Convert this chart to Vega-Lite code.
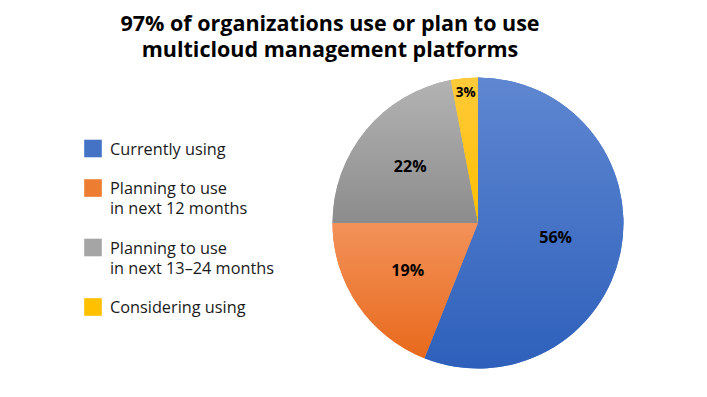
{
  "$schema": "https://vega.github.io/schema/vega-lite/v6.json",
  "autosize": {"type": "none"},
  "width": 291,
  "height": 291,
  "padding": {"left": 332.5, "top": 77.5, "right": 83.5, "bottom": 28.5},
  "background": "white",
  "config": {"view": {"stroke": null}, "font": "Open Sans"},
  "title": {
    "text": ["97% of organizations use or plan to use", "multicloud management platforms"],
    "anchor": "middle",
    "dx": -148,
    "font": "Open Sans",
    "fontSize": 21.5,
    "fontWeight": "bold",
    "color": "#000000",
    "lineHeight": 26.5,
    "offset": 16
  },
  "data": {
    "values": [
      {"cat": "Currently using", "value": 0.56, "ord": 1},
      {"cat": "Planning to use|in next 12 months", "value": 0.19, "ord": 2},
      {"cat": "Planning to use|in next 13–24 months", "value": 0.22, "ord": 3},
      {"cat": "Considering using", "value": 0.03, "ord": 4}
    ]
  },
  "encoding": {
    "theta": {"field": "value", "type": "quantitative", "stack": true, "scale": {"domain": [0, 1]}},
    "order": {"field": "ord", "type": "quantitative"}
  },
  "layer": [
    {
      "mark": {"type": "arc"},
      "encoding": {
        "color": {
          "field": "cat",
          "type": "nominal",
          "scale": {
            "domain": ["Currently using", "Planning to use|in next 12 months", "Planning to use|in next 13–24 months", "Considering using"],
            "range": ["#4472c4", "#ed7d31", "#a5a5a5", "#ffc000"]
          },
          "legend": {
            "title": null,
            "orient": "none",
            "legendX": -248.5,
            "legendY": 62,
            "symbolType": "square",
            "symbolSize": 310,
            "symbolStrokeWidth": 0,
            "symbolOpacity": 1,
            "labelFont": "Open Sans",
            "labelFontSize": 16.3,
            "labelColor": "#1a1a1a",
            "labelOffset": 8,
            "labelLimit": 300,
            "labelBaseline": "alphabetic",
            "rowPadding": 20.5,
            "labelExpr": "split(datum.label, '|')",
            "encode": {"labels": {"update": {"dy": {"value": 6}, "lineHeight": {"value": 20}}}}
          }
        }
      }
    },
    {
      "mark": {"type": "arc", "fill": {"gradient": "linear", "x1": 0, "y1": 0, "x2": 0, "y2": 1, "stops": [{"offset": 0, "color": "#5f87d1"}, {"offset": 1, "color": "#2e60bb"}]}},
      "encoding": {"opacity": {"condition": {"test": "datum.ord == 1", "value": 1}, "value": 0}}
    },
    {
      "mark": {"type": "arc", "fill": {"gradient": "linear", "x1": 0, "y1": 0, "x2": 0, "y2": 1, "stops": [{"offset": 0, "color": "#f3925a"}, {"offset": 1, "color": "#e8691c"}]}},
      "encoding": {"opacity": {"condition": {"test": "datum.ord == 2", "value": 1}, "value": 0}}
    },
    {
      "mark": {"type": "arc", "fill": {"gradient": "linear", "x1": 0, "y1": 0, "x2": 0, "y2": 1, "stops": [{"offset": 0, "color": "#b3b3b3"}, {"offset": 1, "color": "#8c8c8c"}]}},
      "encoding": {"opacity": {"condition": {"test": "datum.ord == 3", "value": 1}, "value": 0}}
    },
    {
      "mark": {"type": "arc", "fill": {"gradient": "linear", "x1": 0, "y1": 0, "x2": 0, "y2": 1, "stops": [{"offset": 0, "color": "#ffca3a"}, {"offset": 1, "color": "#ffbf00"}]}},
      "encoding": {"opacity": {"condition": {"test": "datum.ord == 4", "value": 1}, "value": 0}}
    },
    {
      "mark": {"type": "text", "radius": 79, "font": "Open Sans", "fontSize": 16, "fontWeight": "bold", "color": "#000000"},
      "encoding": {"text": {"field": "value", "format": ".0%"}, "opacity": {"condition": {"test": "datum.ord == 1", "value": 1}, "value": 0}}
    },
    {
      "mark": {"type": "text", "radius": 85, "font": "Open Sans", "fontSize": 16, "fontWeight": "bold", "color": "#000000"},
      "encoding": {"text": {"field": "value", "format": ".0%"}, "opacity": {"condition": {"test": "datum.ord == 2", "value": 1}, "value": 0}}
    },
    {
      "mark": {"type": "text", "radius": 88, "font": "Open Sans", "fontSize": 16, "fontWeight": "bold", "color": "#000000"},
      "encoding": {"text": {"field": "value", "format": ".0%"}, "opacity": {"condition": {"test": "datum.ord == 3", "value": 1}, "value": 0}}
    },
    {
      "mark": {"type": "text", "radius": 131, "font": "Open Sans", "fontSize": 13.5, "fontWeight": "bold", "color": "#000000"},
      "encoding": {"text": {"field": "value", "format": ".0%"}, "opacity": {"condition": {"test": "datum.ord == 4", "value": 1}, "value": 0}}
    }
  ]
}
